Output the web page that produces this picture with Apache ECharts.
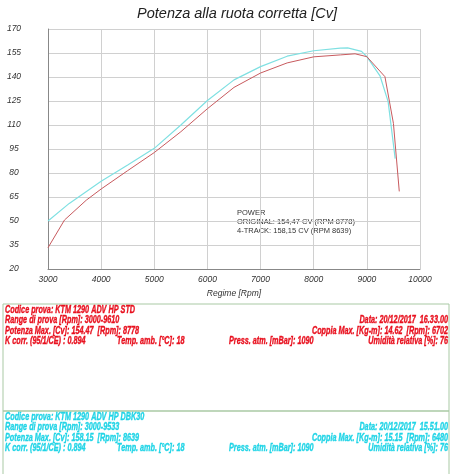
<!DOCTYPE html>
<html>
<head>
<meta charset="utf-8">
<script src="https://cdn.jsdelivr.net/npm/echarts@6/dist/echarts.min.js"></script>
<style>
  html, body { margin: 0; padding: 0; background: #fff; }
  #main { width: 474px; height: 474px; }
</style>
</head>
<body>
<div id="main"></div>
<script>
// curva ORIGINAL (rossa)
var rpmOriginal = [3000, 3310, 3720, 4000, 4500, 5000, 5500, 6000, 6500, 7000, 7500, 8000, 8500, 8778, 9000, 9340, 9500, 9610];
var cvOriginal  = [33.3, 50.6, 63, 70, 81.5, 92.8, 105.8, 120.2, 133.5, 142.5, 148.8, 152.6, 153.8, 154.5, 152.7, 140.2, 111, 68.5];

// curva 4-TRACK (azzurra)
var rpmTrack = [3000, 3400, 4000, 4500, 5000, 5500, 6000, 6500, 7000, 7500, 8000, 8500, 8639, 8900, 9000, 9250, 9400, 9533];
var cvTrack  = [50, 61, 74.8, 85, 95.4, 110, 125.3, 138.2, 146.5, 153, 156.4, 158, 158.2, 156, 152.7, 140.5, 124.6, 89];

var powerNote = ['POWER', 'ORIGINAL: 154,47 CV (RPM 8778)', '4-TRACK: 158,15 CV (RPM 8639)'];

var infoOriginal = [
    ['Codice prova: KTM 1290 ADV HP STD', ''],
    ['Range di prova [Rpm]: 3000-9610', 'Data: 20/12/2017  16.33.00'],
    ['Potenza Max. [Cv]: 154.47  [Rpm]: 8778', 'Coppia Max. [Kg-m]: 14.62  [Rpm]: 6702']
];
var infoTrack = [
    ['Codice prova: KTM 1290 ADV HP DBK30', ''],
    ['Range di prova [Rpm]: 3000-9533', 'Data: 20/12/2017  15.51.00'],
    ['Potenza Max. [Cv]: 158.15  [Rpm]: 8639', 'Coppia Max. [Kg-m]: 15.15  [Rpm]: 6480']
];
var infoAmb = ['K corr. (95/1/CE) : 0.894', 'Temp. amb. [°C]: 18', 'Press. atm. [mBar]: 1090', 'Umidità relativa [%]: 76'];

function pairs(xs, ys){
    return xs.map(function(x, i){ return [x, ys[i]]; });
}

// testo stretto tipo Impact: font normale schiacciato in orizzontale
function infoText(txt, x, y, color, alignRight){
    return {
        type: 'text', x: x, y: y, scaleX: 0.63,
        style: {
            text: txt, fill: color, stroke: color, lineWidth: 0.4,
            align: alignRight ? 'right' : 'left', verticalAlign: 'middle',
            fontFamily: 'Liberation Sans, Arial, sans-serif',
            fontWeight: 'bold', fontStyle: 'italic', fontSize: 11.5
        }
    };
}

function infoBlock(rows, top, color){
    var els = [];
    var lh = 10.3;
    rows.forEach(function(r, i){
        els.push(infoText(r[0], 5, top + i * lh, color));
        if (r[1]) els.push(infoText(r[1], 448, top + i * lh, color, true));
    });
    var y = top + 3 * lh;
    var xs = [5, 117, 229];
    for (var k = 0; k < 3; k++) els.push(infoText(infoAmb[k], xs[k], y, color));
    els.push(infoText(infoAmb[3], 448, y, color, true));
    return els;
}

var chart = echarts.init(document.getElementById('main'));

var axisFont = { fontFamily: 'Liberation Sans, Arial, sans-serif', fontStyle: 'italic', fontSize: 8.5, color: '#333' };

var graphics = [
    { type: 'rect', shape: { x: 3, y: 304, width: 446, height: 107 },
      style: { fill: 'none', stroke: '#a9c9a4', lineWidth: 1 } },
    { type: 'rect', shape: { x: 3, y: 411, width: 446, height: 80 },
      style: { fill: 'none', stroke: '#a9c9a4', lineWidth: 1 } },
    { type: 'text', left: 237, top: 208,
      style: { text: powerNote.join('\n'), fill: '#333', fontSize: 7.5, lineHeight: 9,
               fontFamily: 'Liberation Sans, Arial, sans-serif' } }
].concat(infoBlock(infoOriginal, 310, '#e8101e'), infoBlock(infoTrack, 417, '#20d4e6'));

chart.setOption({
    backgroundColor: '#fff',
    animation: false,
    title: {
        text: 'Potenza alla ruota corretta [Cv]',
        left: 'center',
        top: 1,
        textStyle: { fontFamily: 'Liberation Sans, Arial, sans-serif', fontStyle: 'italic',
                     fontWeight: 'normal', fontSize: 14.5, color: '#222' }
    },
    grid: { left: 48, right: 54, top: 29, bottom: 205 },
    xAxis: {
        type: 'value', min: 3000, max: 10000, interval: 1000,
        name: 'Regime [Rpm]', nameLocation: 'middle', nameGap: 20,
        nameTextStyle: { fontFamily: 'Liberation Sans, Arial, sans-serif', fontStyle: 'italic', fontSize: 8.5, color: '#333' },
        axisLine: { lineStyle: { color: '#888' } },
        axisTick: { show: false },
        axisLabel: Object.assign({ margin: 6, formatter: function(v){ return String(v); } }, axisFont),
        splitLine: { lineStyle: { color: '#d0d0d0' } }
    },
    yAxis: {
        type: 'value', min: 20, max: 170, interval: 15,
        axisLine: { show: true, lineStyle: { color: '#888' } },
        axisTick: { show: false },
        axisLabel: Object.assign({ margin: 34, align: 'center' }, axisFont),
        splitLine: { lineStyle: { color: '#d0d0d0' } }
    },
    series: [
        { name: '4-TRACK', type: 'line', data: pairs(rpmTrack, cvTrack), symbol: 'none',
          lineStyle: { color: '#7fe0e2', width: 1.2 } },
        { name: 'ORIGINAL', type: 'line', data: pairs(rpmOriginal, cvOriginal), symbol: 'none',
          lineStyle: { color: '#c85a5e', width: 1 } }
    ],
    graphic: graphics
});
</script>
</body>
</html>
